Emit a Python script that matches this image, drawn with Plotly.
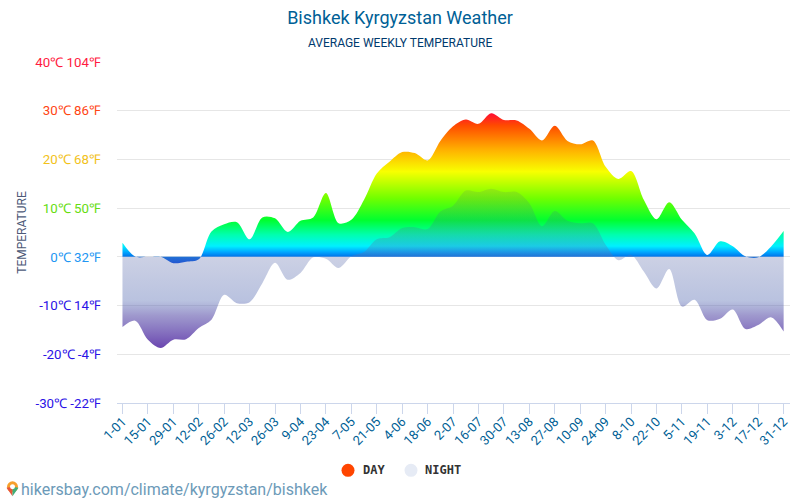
import plotly.graph_objects as go

weeks = ["1-01","8-01","15-01","22-01","29-01","5-02","12-02","19-02","26-02","5-03","12-03","19-03","26-03",
         "2-04","9-04","16-04","23-04","30-04","7-05","14-05","21-05","28-05","4-06","11-06","18-06","25-06",
         "2-07","9-07","16-07","23-07","30-07","6-08","13-08","20-08","27-08","3-09","10-09","17-09","24-09",
         "1-10","8-10","15-10","22-10","29-10","5-11","12-11","19-11","26-11","3-12","10-12","17-12","24-12","31-12"]
day = [2.9,0.05,0,0,-1.3,-1.0,-0.5,5.2,6.7,7.1,3.6,8.1,7.9,5.1,7.4,8.1,13.1,6.9,7.6,11.7,17.1,19.5,21.5,21.3,19.8,
       23.8,26.8,28.2,27.3,29.5,28.1,28.0,26.3,23.9,26.9,23.8,23.1,23.9,18.5,16.0,17.6,11.7,7.7,11.2,7.6,4.8,0.4,
       3.2,2.2,0.1,-0.1,2.1,5.3]
night = [-14.4,-13.1,-17.0,-18.7,-17.0,-16.9,-14.6,-12.9,-7.8,-9.5,-9.3,-5.4,-1.2,-4.7,-3.3,-0.1,-0.4,-2.3,0.1,1.0,
         3.6,4.0,5.9,6.1,5.7,9.3,10.5,13.6,13.3,14.0,13.3,13.3,11.0,6.3,9.4,7.4,6.9,6.9,2.5,-0.7,0.4,-3.0,-6.5,-2.5,
         -10.2,-8.8,-13.0,-12.7,-10.8,-14.8,-14.0,-12.4,-15.3]
y_ticks = [40,30,20,10,0,-10,-20,-30]
y_labels = ["40℃ 104℉","30℃ 86℉","20℃ 68℉","10℃ 50℉","0℃ 32℉","-10℃ 14℉","-20℃ -4℉","-30℃ -22℉"]
y_colors = ["#ff1a40","#ff4513","#f2c21a","#66dd10","#2196f3","#2b12e6","#2b12e6","#2b12e6"]

W, H = 800, 500
L, R, T, B = 117, 790, 61.5, 403.5

# gradient stops (temperature, colour), normalised between gradient limits
def scale(stops):
    lo, hi = stops[0][0], stops[-1][0]
    return [[(t - lo) / (hi - lo), c] for t, c in stops]

day_stops = [(-2,"#0030e0"),(0,"#0070e8"),(1,"#00a8ff"),(2.2,"#00f0ff"),(4.5,"#00ffb0"),(7.5,"#00ff30"),
             (12,"#70ff00"),(17.5,"#f8ff00"),(22,"#ffb000"),(27,"#ff4a00"),(30,"#ff0040")]
night_stops = [(-20,"rgba(88,40,165,0.95)"),(-12,"rgba(100,90,175,0.62)"),(-9,"rgba(100,120,185,0.45)"),
               (0,"rgba(100,115,175,0.33)"),(8,"rgba(70,110,150,0.2)"),(15,"rgba(90,110,100,0.14)")]

fig = go.Figure()
fig.add_trace(go.Scatter(x=weeks, y=day, name="DAY", mode="lines", showlegend=False, hoverinfo="skip",
    line=dict(width=0, shape="spline", smoothing=0.9), fill="tozeroy",
    fillgradient=dict(type="vertical", start=day_stops[0][0], stop=day_stops[-1][0], colorscale=scale(day_stops))))
fig.add_trace(go.Scatter(x=weeks, y=night, name="NIGHT", mode="lines", showlegend=False, hoverinfo="skip",
    line=dict(width=0, shape="spline", smoothing=0.9), fill="tozeroy",
    fillgradient=dict(type="vertical", start=night_stops[0][0], stop=night_stops[-1][0], colorscale=scale(night_stops))))

def px(x): return (x - L) / (R - L)
def py(y): return (B - y) / (B - T)

def pin_piece(a, b, c, color):
    return dict(type="path", xref="paper", yref="paper", fillcolor=color, line=dict(width=0), layer="above",
                path=f"M{px(a[0])},{py(a[1])} L{px(b[0])},{py(b[1])} L{px(c[0])},{py(c[1])} Z")

def dot(x, y, r, color):
    return dict(type="circle", xref="paper", yref="paper", fillcolor=color, line=dict(width=0), layer="above",
                x0=px(x-r), x1=px(x+r), y0=py(y+r), y1=py(y-r))

def label(text, x, y, anchor, size, color, family="Roboto", weight="normal"):
    return dict(text=text, xref="paper", yref="paper", showarrow=False, x=px(x), xanchor=anchor, y=py(y), yanchor="middle",
                xshift=0, font=dict(size=size, color=color, family=family, weight=weight))

cx, cy = 12.5, 487.5
shapes = [
    dot(cx, cy, 5.5, "#f6a02d"),
    pin_piece((cx,cy),(cx-6,cy+1),(cx,cy+9.5),"#e8553a"),
    pin_piece((cx,cy),(cx+6,cy+1),(cx,cy+9.5),"#3fae7a"),
    dot(cx, cy, 2.5, "white"),
    dot(348, 471, 6.5, "#ff4500"),
    dot(411, 471, 6.5, "#e6ebf5"),
]

fig.update_layout(
    width=W, height=H, paper_bgcolor="white", plot_bgcolor="white", autosize=False, showlegend=False,
    margin=dict(l=L, r=W-R, t=T, b=H-B, pad=0, autoexpand=False),
    font=dict(family="Roboto"),
    title=dict(text="Bishkek Kyrgyzstan Weather", x=0.5, xanchor="center", y=0.964, yanchor="middle",
               font=dict(size=18, color="#005f96", family="Roboto")),
    xaxis=dict(type="category", categoryorder="array", categoryarray=weeks, range=[-0.43, 52.5],
               tickmode="linear", tick0=0, dtick=2, tickangle=-45, showgrid=False, zeroline=False,
               showline=True, linecolor="#ccd6eb", linewidth=1, ticks="outside", ticklen=10, tickcolor="#ccd6eb",
               ticklabelstandoff=-5, tickfont=dict(size=13, color="#005f96", family="Roboto")),
    yaxis=dict(range=[-30, 40], tickmode="array", tickvals=y_ticks,
               ticktext=[f'<span style="color:{c}">{t}</span>' for t, c in zip(y_labels, y_colors)],
               showgrid=True, gridcolor="#e6e6e6", gridwidth=1, zeroline=False, showline=False, ticks="",
               ticklabelstandoff=15, tickfont=dict(size=13.3, family="Roboto"),
               title=dict(text="TEMPERATURE", standoff=6, font=dict(size=12, color="#4d5a78", family="Roboto"))),
    shapes=shapes,
    annotations=[
        label("AVERAGE WEEKLY TEMPERATURE", 400, 42, "center", 12, "#003a6e"),
        label("DAY", 361, 471, "left", 12, "#333333", "DejaVu Sans Mono", "bold"),
        label("NIGHT", 423, 471, "left", 12, "#333333", "DejaVu Sans Mono", "bold"),
        label("hikersbay.com/climate/kyrgyzstan/bishkek", 19, 490, "left", 16, "#6c9ab8"),
    ],
)
fig.write_html("out.html", config={"displayModeBar": False},
               post_script="document.body.style.margin='0';document.body.style.overflow='hidden';")
